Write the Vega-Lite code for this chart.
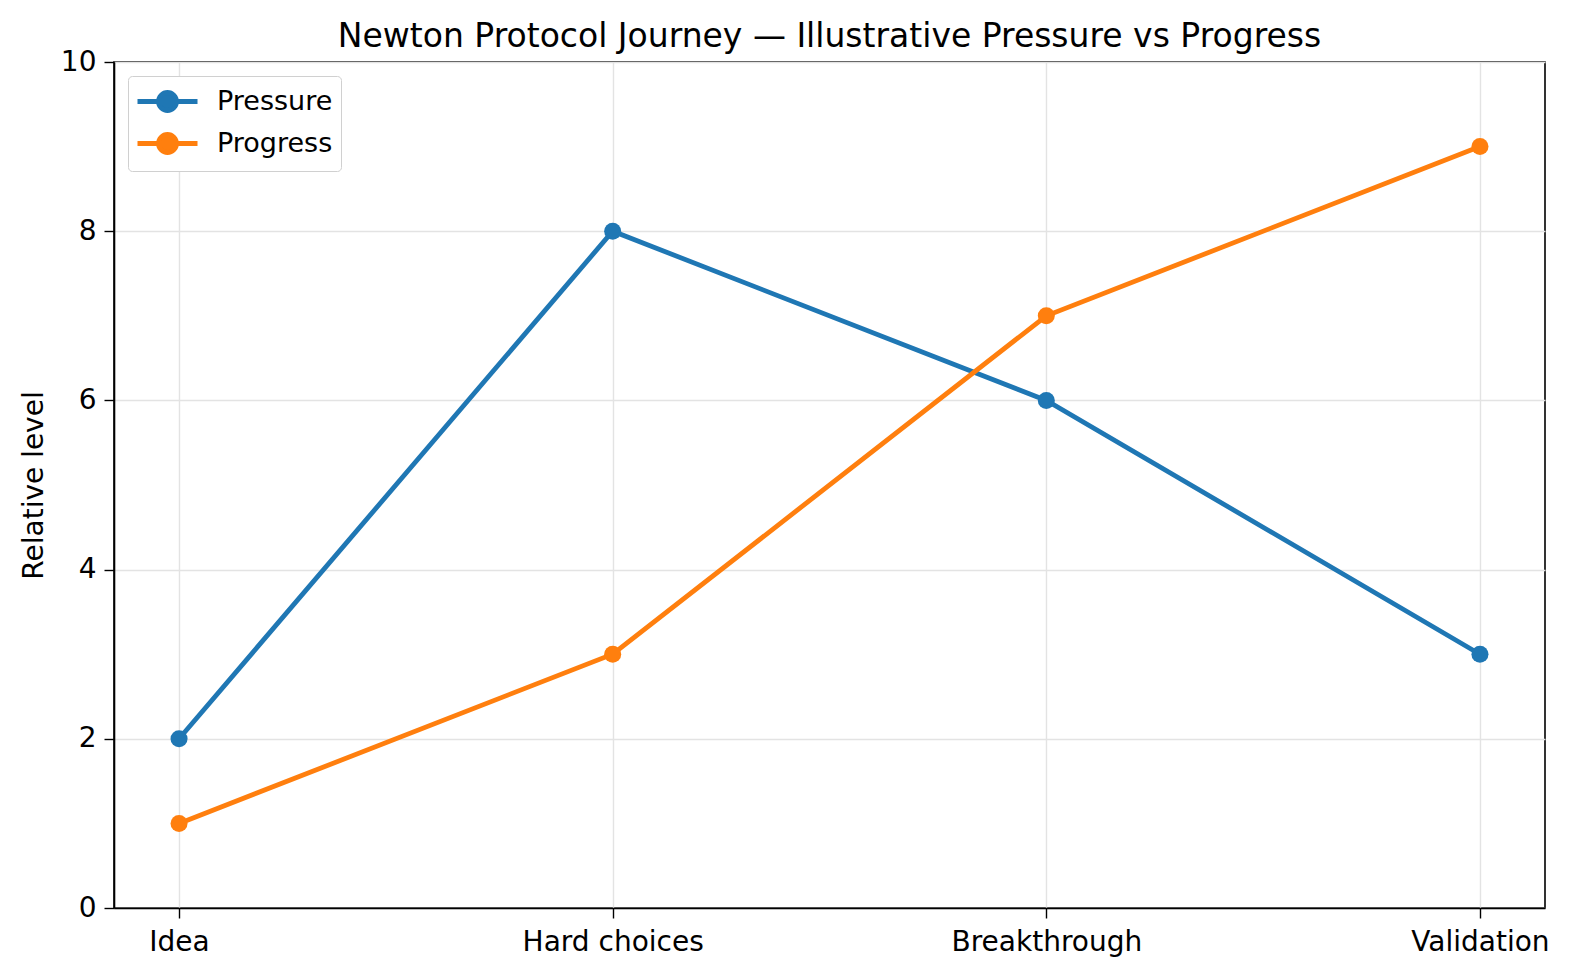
{
  "$schema": "https://vega.github.io/schema/vega-lite/v6.json",
  "width": 1431,
  "height": 846,
  "autosize": {"type": "none"},
  "padding": {"left": 114, "top": 62, "right": 26, "bottom": 69},
  "background": "white",
  "title": {
    "text": "Newton Protocol Journey — Illustrative Pressure vs Progress",
    "fontSize": 33,
    "fontWeight": "normal",
    "font": "DejaVu Sans",
    "color": "black",
    "offset": -6
  },
  "data": {
    "values": [
      {"stage": "Idea", "series": "Pressure", "level": 2},
      {"stage": "Hard choices", "series": "Pressure", "level": 8},
      {"stage": "Breakthrough", "series": "Pressure", "level": 6},
      {"stage": "Validation", "series": "Pressure", "level": 3},
      {"stage": "Idea", "series": "Progress", "level": 1},
      {"stage": "Hard choices", "series": "Progress", "level": 3},
      {"stage": "Breakthrough", "series": "Progress", "level": 7},
      {"stage": "Validation", "series": "Progress", "level": 9}
    ]
  },
  "mark": {
    "type": "line",
    "strokeWidth": 4.8,
    "point": {"filled": true, "size": 290, "opacity": 1}
  },
  "encoding": {
    "x": {
      "field": "stage",
      "type": "ordinal",
      "sort": ["Idea", "Hard choices", "Breakthrough", "Validation"],
      "scale": {"type": "point", "padding": 0.15},
      "axis": {"title": null, "labelAngle": 0, "labelLimit": 0, "labelPadding": 10}
    },
    "y": {
      "field": "level",
      "type": "quantitative",
      "scale": {"domain": [0, 10], "nice": false},
      "axis": {"title": "Relative level", "values": [0, 2, 4, 6, 8, 10], "titlePadding": 12}
    },
    "color": {
      "field": "series",
      "type": "nominal",
      "scale": {"domain": ["Pressure", "Progress"], "range": ["#1f77b4", "#ff7f0e"]},
      "legend": {
        "title": null,
        "orient": "top-left",
        "offset": 14,
        "symbolType": "M-2,0L2,0M-0.6,0A0.6,0.6,0,1,1,0.6,0A0.6,0.6,0,1,1,-0.6,0Z",
        "symbolSize": 900,
        "symbolOffset": 14,
        "symbolStrokeWidth": 4.8,
        "symbolOpacity": 1,
        "labelFontSize": 27,
        "labelFont": "DejaVu Sans",
        "labelColor": "black",
        "labelOffset": 32,
        "rowPadding": 3,
        "padding": 8,
        "strokeColor": "#d0d0d0",
        "fillColor": "white",
        "cornerRadius": 4
      }
    }
  },
  "config": {
    "font": "DejaVu Sans",
    "view": {"stroke": "black", "strokeWidth": 1.6},
    "axis": {
      "labelFont": "DejaVu Sans",
      "labelFontSize": 28,
      "labelColor": "black",
      "titleFont": "DejaVu Sans",
      "titleFontSize": 28,
      "titleFontWeight": "normal",
      "titleColor": "black",
      "domainColor": "black",
      "domainWidth": 1.6,
      "tickColor": "black",
      "tickSize": 10,
      "tickWidth": 1.4,
      "labelPadding": 8,
      "grid": true,
      "gridColor": "#e3e3e3",
      "gridWidth": 1.4
    }
  }
}
